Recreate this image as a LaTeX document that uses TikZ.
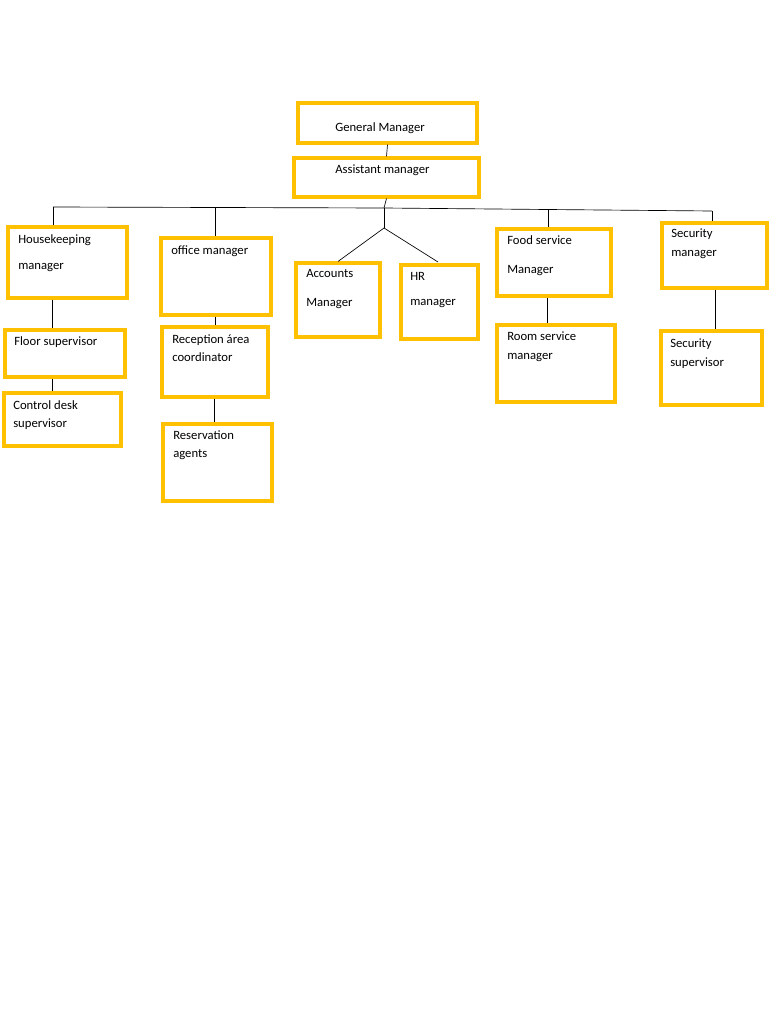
\documentclass[tikz,border=0pt]{standalone}
\usepackage{fontspec}
\setmainfont{Carlito}
\usetikzlibrary{positioning}
\definecolor{boxyellow}{HTML}{FFC000}
\tikzset{
  box/.style={draw=boxyellow, line width=2.3pt, inner sep=0pt},
  txt/.style={anchor=north west, inner sep=0pt, align=left, font=\fontsize{9.5pt}{14pt}\selectfont},
  conn/.style={black, line width=0.5pt}
}
% \bx{name}{x1}{y1}{x2}{y2}
\newcommand{\bx}[5]{\node[box, minimum width={(#4-#2)*0.75pt}, minimum height={(#5-#3)*0.75pt}] (#1) at ({(#2+#4)/2},{(#3+#5)/2}) {};}
\begin{document}
\begin{tikzpicture}[x=0.75pt, y=-0.75pt]
\useasboundingbox (0,0) rectangle (768,1024);
\bx{gm}{298}{103}{477}{143}
\node[txt] at (335,122) {General Manager};
\bx{am}{294}{158}{479}{197}
\node[txt] at (335,165) {Assistant manager};
\bx{hk}{8}{227}{127}{298}
\node[txt] at (18,234) {Housekeeping};
\node[txt] at (18,263) {manager};
\bx{om}{161}{238}{271}{315}
\node[txt] at (171,245) {office manager};
\bx{acc}{296}{263}{380}{337}
\node[txt] at (306,269) {Accounts};
\node[txt] at (306,298) {Manager};
\bx{hr}{401}{265}{478}{339}
\node[txt, font=\fontsize{9.5pt}{19pt}\selectfont] at (410,272) {HR\\manager};
\bx{fs}{497}{229}{611}{296}
\node[txt] at (507,235) {Food service};
\node[txt] at (507,265) {Manager};
\bx{sm}{662}{223}{767}{288}
\node[txt] at (671,229) {Security\\manager};
\bx{fl}{5}{330}{125}{377}
\node[txt] at (14,336) {Floor supervisor};
\bx{cd}{4}{393}{121}{446}
\node[txt] at (13,400) {Control desk\\supervisor};
\bx{rc}{162}{327}{268}{397}
\node[txt] at (172,334) {Reception área\\coordinator};
\bx{rs}{163}{424}{272}{501}
\node[txt] at (173,430) {Reservation\\agents};
\bx{ro}{497}{325}{615}{402}
\node[txt] at (507,332) {Room service\\manager};
\bx{ss}{661}{331}{762}{405}
\node[txt] at (670,339) {Security\\supervisor};
% bus
\coordinate (bl) at (53,207);
\coordinate (bc) at (384,208);
\coordinate (br) at (712,211);
\coordinate (fork) at (384,228);
\draw[conn] (gm.south) -- (am.north);
\draw[conn] (am.south) -- (bc);
\draw[conn] (bl) -- (bc) -- (br);
\draw[conn] (bl) -- (hk.north -| bl);
\draw[conn] (215,207.5) -- (om.north -| 215,0);
\draw[conn] (548,210) -- (fs.north -| 548,0);
\draw[conn] (br) -- (sm.north -| br);
\draw[conn] (bc) -- (fork);
\draw[conn] (fork) -- (acc.north);
\draw[conn] (fork) -- (438,262);
% sub chains
\draw[conn] (hk.south -| 52,0) -- (fl.north -| 52,0);
\draw[conn] (fl.south -| 52,0) -- (cd.north -| 52,0);
\draw[conn] (om.south -| 215,0) -- (rc.north -| 215,0);
\draw[conn] (rc.south -| 214,0) -- (rs.north -| 214,0);
\draw[conn] (fs.south -| 547,0) -- (ro.north -| 547,0);
\draw[conn] (sm.south -| 715,0) -- (ss.north -| 715,0);
\end{tikzpicture}
\end{document}
